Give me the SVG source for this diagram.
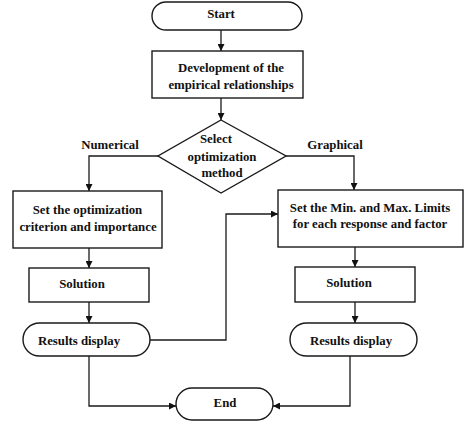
<svg xmlns="http://www.w3.org/2000/svg" width="474" height="430" viewBox="0 0 474 430">
<defs>
<style>
.s{fill:#fff;stroke:#1a1a1a;stroke-width:1.4}
.c{fill:none;stroke:#1a1a1a;stroke-width:1.3}
text{font-family:"Liberation Serif","Times New Roman",serif;font-weight:bold;font-size:12.8px;fill:#111;text-anchor:middle}
</style>
<marker id="ah" viewBox="0 0 10 10" refX="10" refY="5" markerWidth="7" markerHeight="7" markerUnits="userSpaceOnUse" orient="auto">
<path d="M0,0 L10,5 L0,10 z" fill="#111"/>
</marker>
</defs>
<rect width="474" height="430" fill="#fff"/>
<g id="connectors">
<path class="c" d="M221,30 V51" marker-end="url(#ah)"/>
<path class="c" d="M221,98 V120" marker-end="url(#ah)"/>
<path class="c" d="M158,156 H89 V191" marker-end="url(#ah)"/>
<path class="c" d="M286,156 H354 V190" marker-end="url(#ah)"/>
<path class="c" d="M89,248 V268" marker-end="url(#ah)"/>
<path class="c" d="M89,302 V323" marker-end="url(#ah)"/>
<path class="c" d="M150,340 H226 V214 H278" marker-end="url(#ah)"/>
<path class="c" d="M355,247 V267" marker-end="url(#ah)"/>
<path class="c" d="M355,302 V323" marker-end="url(#ah)"/>
<path class="c" d="M89,356 V406 H176" marker-end="url(#ah)"/>
<path class="c" d="M350,356 V406 H273" marker-end="url(#ah)"/>
<text x="110" y="148.5">Numerical</text>
<text x="335" y="148.5">Graphical</text>
</g>
<g id="start">
<rect class="s" x="152" y="2" width="150" height="28" rx="14"/>
<text x="221" y="18">Start</text>
</g>
<g id="develop">
<rect class="s" x="152" y="51" width="151" height="47"/>
<text x="231" y="71.5">Development of the</text>
<text x="231" y="88.5">empirical relationships</text>
</g>
<g id="select">
<polygon class="s" points="221,120 286,156 221,193 158,156"/>
<text x="216" y="143">Select</text>
<text x="222" y="160.5">optimization</text>
<text x="222" y="177">method</text>
</g>
<g id="setopt">
<rect class="s" x="13" y="191" width="149" height="57"/>
<text x="87.5" y="213.5">Set the optimization</text>
<text x="88" y="230.5">criterion and importance</text>
</g>
<g id="setlimits">
<rect class="s" x="278" y="190" width="185" height="57"/>
<text x="370" y="211.5">Set the Min. and Max. Limits</text>
<text x="370" y="227.5">for each response and factor</text>
</g>
<g id="solution-left">
<rect class="s" x="29" y="268" width="120" height="34"/>
<text x="82" y="287.5">Solution</text>
</g>
<g id="solution-right">
<rect class="s" x="295" y="267" width="120" height="35"/>
<text x="349" y="286.5">Solution</text>
</g>
<g id="results-left">
<rect class="s" x="23" y="323" width="127" height="33" rx="16.5"/>
<text x="79" y="344.5">Results display</text>
</g>
<g id="results-right">
<rect class="s" x="290" y="323" width="127" height="33" rx="16.5"/>
<text x="351" y="344.5">Results display</text>
</g>
<g id="end">
<rect class="s" x="176" y="388" width="97" height="32" rx="16"/>
<text x="225" y="406.5">End</text>
</g>
</svg>
